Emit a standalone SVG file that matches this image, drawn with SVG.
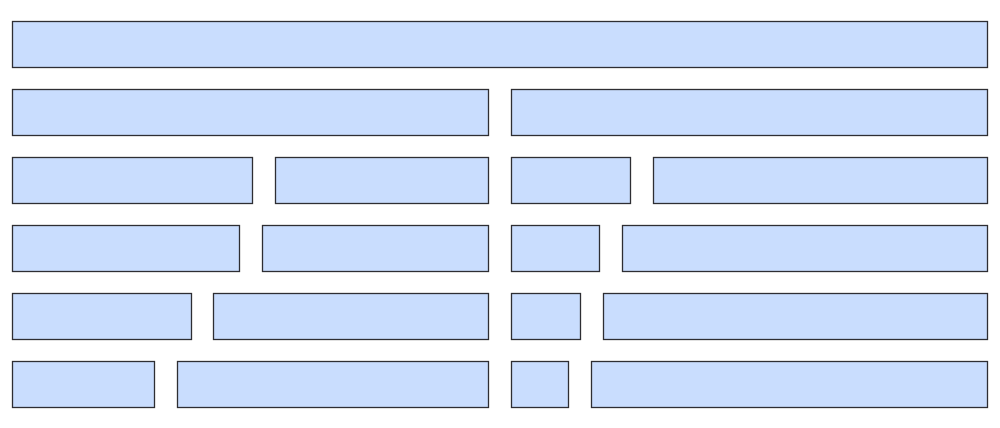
<svg xmlns="http://www.w3.org/2000/svg" width="1000" height="428" viewBox="0 0 1000 428">
<style>
.b{fill:#c9ddfe;stroke:#2e2e33;stroke-width:1.3}
</style>
<rect width="1000" height="428" fill="#ffffff"/>
<g id="r1"><rect class="b" x="12.5" y="21.5" width="975" height="46"/></g>
<g id="r2a"><rect class="b" x="12.5" y="89.5" width="476" height="46"/></g>
<g id="r2b"><rect class="b" x="511.5" y="89.5" width="476" height="46"/></g>
<g id="r3a"><rect class="b" x="12.5" y="157.5" width="240" height="46"/></g>
<g id="r3b"><rect class="b" x="275.5" y="157.5" width="213" height="46"/></g>
<g id="r3c"><rect class="b" x="511.5" y="157.5" width="119" height="46"/></g>
<g id="r3d"><rect class="b" x="653.5" y="157.5" width="334" height="46"/></g>
<g id="r4a"><rect class="b" x="12.5" y="225.5" width="227" height="46"/></g>
<g id="r4b"><rect class="b" x="262.5" y="225.5" width="226" height="46"/></g>
<g id="r4c"><rect class="b" x="511.5" y="225.5" width="88" height="46"/></g>
<g id="r4d"><rect class="b" x="622.5" y="225.5" width="365" height="46"/></g>
<g id="r5a"><rect class="b" x="12.5" y="293.5" width="179" height="46"/></g>
<g id="r5b"><rect class="b" x="213.5" y="293.5" width="275" height="46"/></g>
<g id="r5c"><rect class="b" x="511.5" y="293.5" width="69" height="46"/></g>
<g id="r5d"><rect class="b" x="603.5" y="293.5" width="384" height="46"/></g>
<g id="r6a"><rect class="b" x="12.5" y="361.5" width="142" height="46"/></g>
<g id="r6b"><rect class="b" x="177.5" y="361.5" width="311" height="46"/></g>
<g id="r6c"><rect class="b" x="511.5" y="361.5" width="57" height="46"/></g>
<g id="r6d"><rect class="b" x="591.5" y="361.5" width="396" height="46"/></g>
<g id="connectors"></g>
</svg>
